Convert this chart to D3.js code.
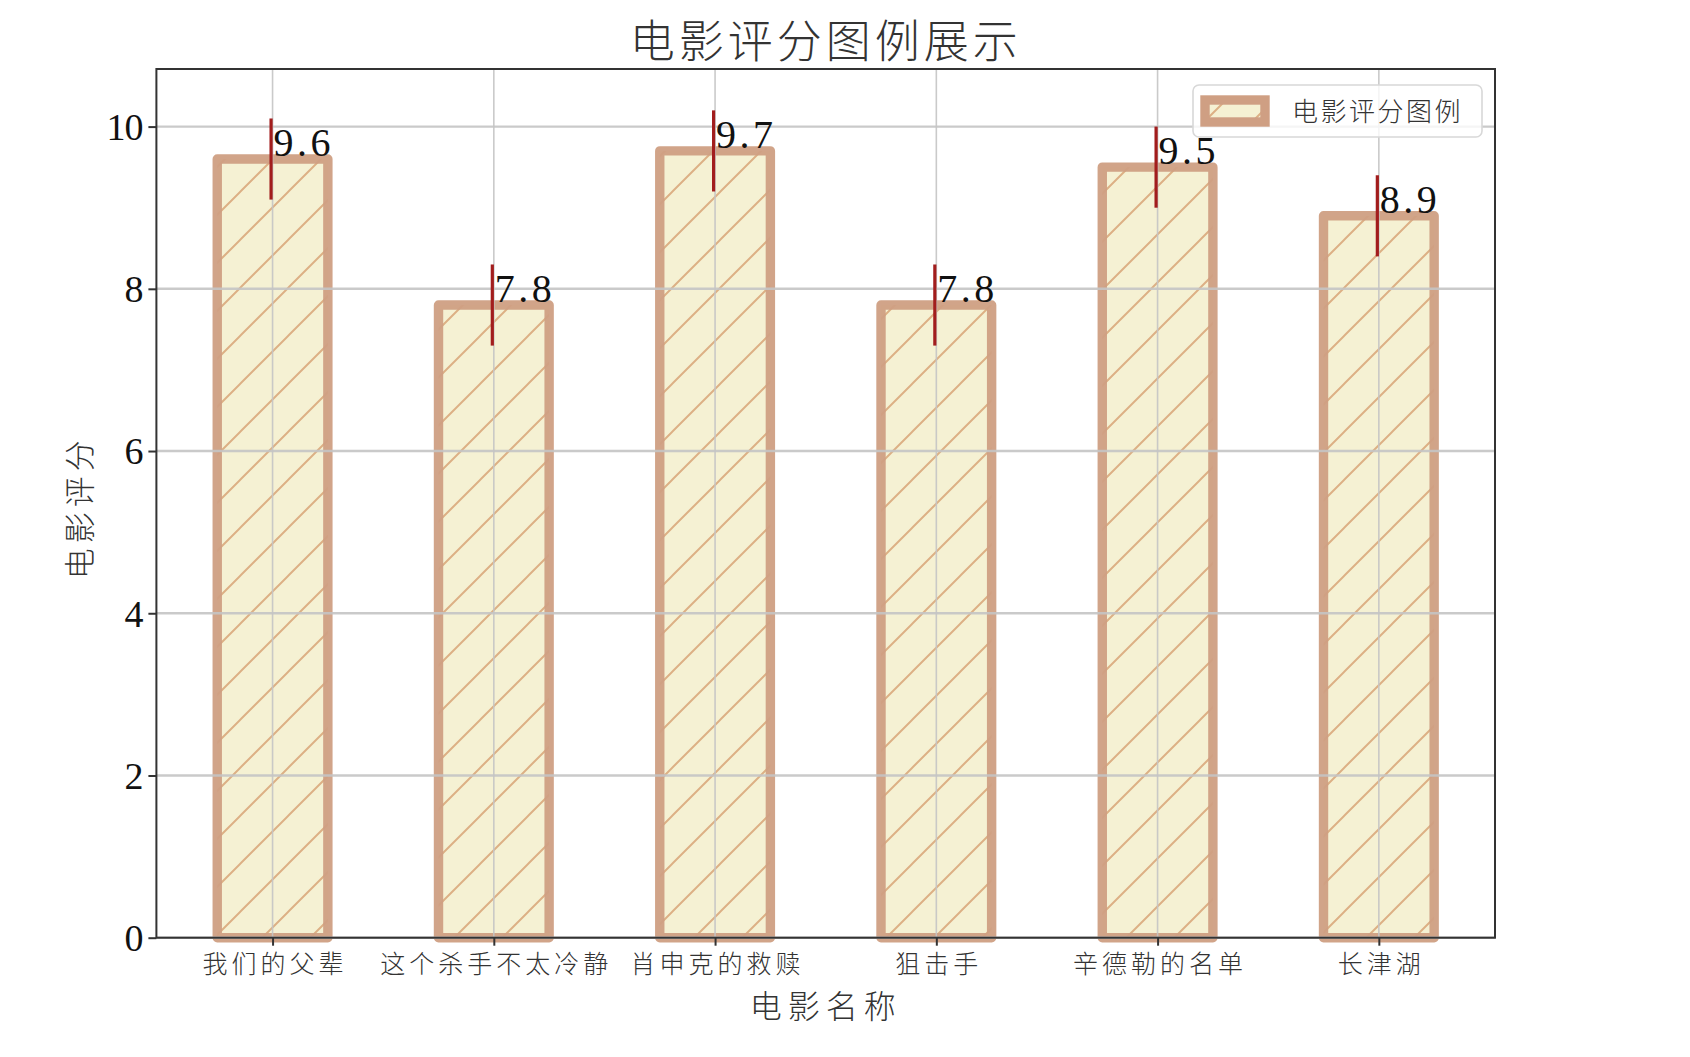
<!DOCTYPE html>
<html>
<head>
<meta charset="utf-8">
<script src="https://cdn.jsdelivr.net/npm/d3@7"></script>
<style>
  body { margin: 0; background: #fff; }
  svg { display: block; }
</style>
</head>
<body>
<svg id="chart" width="1690" height="1057"></svg>
<script>
// data
var movies = ["我们的父辈", "这个杀手不太冷静", "肖申克的救赎", "狙击手", "辛德勒的名单", "长津湖"];
var scores = [9.6, 7.8, 9.7, 7.8, 9.5, 8.9];
var errors = [0.5, 0.5, 0.5, 0.5, 0.5, 0.5];
var yTicks = [0, 2, 4, 6, 8, 10];
var titleText = "电影评分图例展示";
var xLabel = "电影名称";
var yLabel = "电影评分";
var legendLabel = "电影评分图例";

var cjk = "'Noto Sans CJK SC', 'Noto Sans', sans-serif";
var num = "'Liberation Serif', 'DejaVu Serif', serif";

var pxL = 156.4, pxR = 1495, pxT = 69, pxB = 937.7;
var barW = 0.5;

var svg = d3.select("#chart");

var scX = d3.scaleLinear().domain([-0.525, 5.525]).range([pxL, pxR]);
var scY = d3.scaleLinear().domain([0, 10.71]).range([pxB, pxT]);

// hatch pattern
var defs = svg.append("defs");
var pat = defs.append("pattern")
    .attr("id", "hatch")
    .attr("patternUnits", "userSpaceOnUse")
    .attr("width", 48).attr("height", 48);
pat.append("path")
    .attr("d", "M-12,12 L12,-12 M0,48 L48,0 M36,60 L60,36")
    .attr("stroke", "#d49a6a")
    .attr("stroke-width", 2)
    .attr("stroke-opacity", 0.75);

// bars
var bars = svg.append("g");
bars.selectAll("rect.fill")
    .data(scores)
    .enter()
    .append("rect")
    .attr("class", "fill")
    .attr("x", (d, i) => scX(i - barW / 2))
    .attr("width", (d, i) => scX(i + barW / 2) - scX(i - barW / 2))
    .attr("y", d => scY(d))
    .attr("height", d => scY(0) - scY(d))
    .attr("fill", "#f5f1d3");
bars.selectAll("rect.hatch")
    .data(scores)
    .enter()
    .append("rect")
    .attr("class", "hatch")
    .attr("x", (d, i) => scX(i - barW / 2))
    .attr("width", (d, i) => scX(i + barW / 2) - scX(i - barW / 2))
    .attr("y", d => scY(d))
    .attr("height", d => scY(0) - scY(d))
    .attr("fill", "url(#hatch)")
    .attr("stroke", "#cf9f83")
    .attr("stroke-opacity", 0.95)
    .attr("stroke-width", 9.4)
    .attr("stroke-linejoin", "round");

// grid
var grid = svg.append("g").attr("stroke", "#c4c4c4");
grid.selectAll("line.h")
    .data(yTicks)
    .enter()
    .append("line")
    .attr("x1", pxL).attr("x2", pxR)
    .attr("y1", d => scY(d)).attr("y2", d => scY(d))
    .attr("stroke-width", 2.4)
    .attr("stroke-opacity", 0.9);
grid.selectAll("line.v")
    .data(movies)
    .enter()
    .append("line")
    .attr("x1", (d, i) => scX(i)).attr("x2", (d, i) => scX(i))
    .attr("y1", pxT).attr("y2", pxB)
    .attr("stroke-width", 1.6)
    .attr("stroke-opacity", 0.9);

// error bars
svg.append("g").selectAll("line")
    .data(scores)
    .enter()
    .append("line")
    .attr("x1", (d, i) => scX(i) - 1.5).attr("x2", (d, i) => scX(i) - 1.5)
    .attr("y1", (d, i) => scY(d + errors[i]))
    .attr("y2", (d, i) => scY(d - errors[i]))
    .attr("stroke", "#a21d1d")
    .attr("stroke-width", 3.2);

// value labels
svg.append("g").selectAll("text")
    .data(scores)
    .enter()
    .append("text")
    .attr("x", (d, i) => scX(i) + 1)
    .attr("y", d => scY(d) - 3)
    .attr("font-family", num)
    .attr("font-size", 40)
    .attr("letter-spacing", 3.5)
    .attr("fill", "#111")
    .text(d => d.toFixed(1));

// axes
var axY = svg.append("g")
    .attr("transform", "translate(" + pxL + ",0)")
    .call(d3.axisLeft(scY).tickValues(yTicks).tickFormat(d3.format("d")).tickSize(8).tickPadding(6));
axY.selectAll("text")
    .attr("font-family", num)
    .attr("font-size", 38)
    .attr("letter-spacing", -1)
    .attr("fill", "#111")
    .attr("dy", "0.34em");

var axX = svg.append("g")
    .attr("transform", "translate(0," + pxB + ")")
    .call(d3.axisBottom(scX).tickValues(d3.range(movies.length)).tickFormat(i => movies[i]).tickSize(8).tickPadding(10));
axX.selectAll("text")
    .attr("font-family", cjk)
    .attr("font-size", 25)
    .attr("font-weight", 300)
    .attr("letter-spacing", 4)
    .attr("fill", "#333")
    .attr("dx", 2);

svg.selectAll(".domain").remove();
svg.selectAll(".tick line").attr("stroke", "#333").attr("stroke-width", 2);

// frame
svg.append("rect")
    .attr("x", pxL).attr("y", pxT)
    .attr("width", pxR - pxL).attr("height", pxB - pxT)
    .attr("fill", "none")
    .attr("stroke", "#333")
    .attr("stroke-width", 2);

// titles
svg.append("text")
    .attr("x", (pxL + pxR) / 2).attr("y", 58)
    .attr("text-anchor", "middle")
    .attr("font-family", cjk)
    .attr("font-size", 45)
    .attr("font-weight", 300)
    .attr("letter-spacing", 4)
    .attr("fill", "#333")
    .text(titleText);

svg.append("text")
    .attr("x", (pxL + pxR) / 2).attr("y", 1018)
    .attr("text-anchor", "middle")
    .attr("font-family", cjk)
    .attr("font-size", 32)
    .attr("font-weight", 300)
    .attr("letter-spacing", 6)
    .attr("fill", "#333")
    .text(xLabel);

svg.append("text")
    .attr("transform", "translate(91," + ((pxT + pxB) / 2 + 4) + ") rotate(-90)")
    .attr("text-anchor", "middle")
    .attr("font-family", cjk)
    .attr("font-size", 31)
    .attr("font-weight", 300)
    .attr("letter-spacing", 5)
    .attr("fill", "#333")
    .text(yLabel);

// legend
var lg = svg.append("g").attr("transform", "translate(1193,85)");
lg.append("rect")
    .attr("width", 289).attr("height", 52)
    .attr("rx", 6)
    .attr("fill", "#fff").attr("fill-opacity", 0.8)
    .attr("stroke", "#d8d8d8").attr("stroke-width", 1.6);
lg.append("rect")
    .attr("x", 12).attr("y", 15)
    .attr("width", 60).attr("height", 22)
    .attr("fill", "#f5f1d3");
lg.append("rect")
    .attr("x", 12).attr("y", 15)
    .attr("width", 60).attr("height", 22)
    .attr("fill", "url(#hatch)")
    .attr("stroke", "#cf9f83")
    .attr("stroke-width", 9.4);
lg.append("text")
    .attr("x", 99).attr("y", 36)
    .attr("font-family", cjk)
    .attr("font-size", 26)
    .attr("font-weight", 300)
    .attr("letter-spacing", 2.5)
    .attr("fill", "#333")
    .text(legendLabel);
</script>
</body>
</html>
